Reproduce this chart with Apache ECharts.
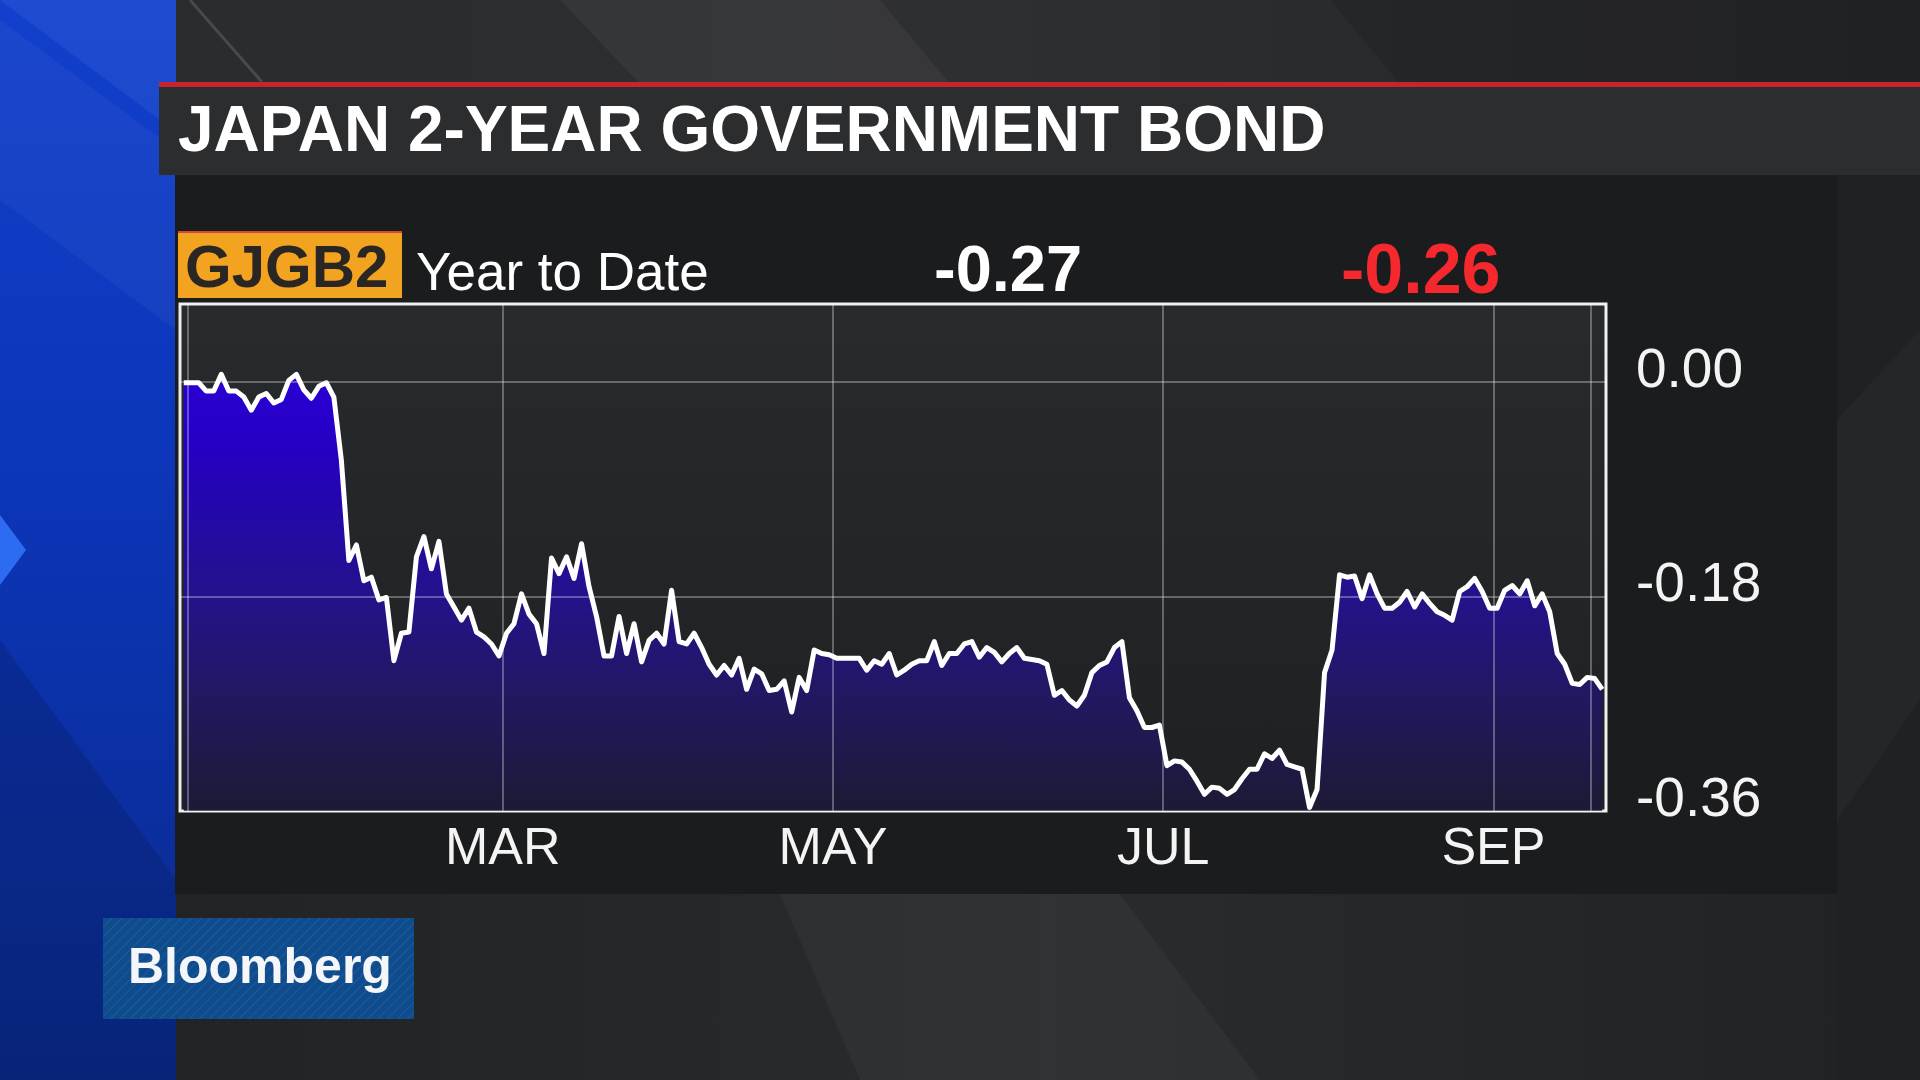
<!DOCTYPE html>
<html>
<head>
<meta charset="utf-8">
<script src="https://cdn.jsdelivr.net/npm/echarts@6/dist/echarts.min.js"></script>
<style>
html,body{margin:0;padding:0;background:#232426;overflow:hidden;}
#bg{position:absolute;left:0;top:0;}
#c{position:absolute;left:0;top:0;width:1920px;height:1080px;}
</style>
</head>
<body>
<svg id="bg" width="1920" height="1080" xmlns="http://www.w3.org/2000/svg">
  <defs>
    <linearGradient id="gBlue" x1="0" y1="0" x2="0" y2="1">
      <stop offset="0" stop-color="#1240cc"/>
      <stop offset="0.45" stop-color="#0c35b8"/>
      <stop offset="1" stop-color="#0a2a8c"/>
    </linearGradient>
    <linearGradient id="gTop" x1="0" y1="0" x2="1" y2="0">
      <stop offset="0" stop-color="#2a2b2d"/>
      <stop offset="0.5" stop-color="#2e2f31"/>
      <stop offset="1" stop-color="#242527"/>
    </linearGradient>
    <linearGradient id="gBottom" x1="0" y1="0" x2="1" y2="0">
      <stop offset="0" stop-color="#222325"/>
      <stop offset="0.5" stop-color="#2a2b2d"/>
      <stop offset="1" stop-color="#212224"/>
    </linearGradient>
    <pattern id="stripes" width="7" height="7" patternUnits="userSpaceOnUse" patternTransform="rotate(45)">
      <rect width="7" height="7" fill="#0f4c8e"/>
      <line x1="0" y1="0" x2="0" y2="7" stroke="rgba(255,255,255,0.07)" stroke-width="2"/>
    </pattern>
  </defs>
  <rect x="0" y="0" width="1920" height="1080" fill="#232426"/>
  <rect x="0" y="0" width="1920" height="84" fill="url(#gTop)"/>
  <polygon points="560,0 880,0 950,84 640,84" fill="rgba(255,255,255,0.045)"/>
  <polygon points="1330,0 1920,0 1920,84 1400,84" fill="rgba(0,0,0,0.10)"/>
  <line x1="190" y1="0" x2="262" y2="82" stroke="rgba(255,255,255,0.14)" stroke-width="3"/>
  <rect x="175" y="894" width="1745" height="186" fill="url(#gBottom)"/>
  <polygon points="780,894 1120,894 1260,1080 860,1080" fill="rgba(255,255,255,0.035)"/>
  <polygon points="1837,175 1920,175 1920,1080 1837,1080" fill="#202123"/>
  <polygon points="1837,420 1920,330 1920,700 1837,820" fill="rgba(255,255,255,0.025)"/>
  <rect x="0" y="0" width="176" height="1080" fill="url(#gBlue)"/>
  <polygon points="0,0 176,0 176,132" fill="rgba(140,180,255,0.10)"/>
  <polygon points="0,20 176,150 176,330 0,200" fill="rgba(255,255,255,0.04)"/>
  <polygon points="0,515 26,550 0,585" fill="#2d6cf2"/>
  <polygon points="0,640 176,880 176,1080 0,1080" fill="rgba(0,0,0,0.13)"/>
  <rect x="159" y="82" width="1761" height="5" fill="#c7242d"/>
  <rect x="159" y="87" width="1761" height="88" fill="#2c2d2f"/>
  <rect x="175" y="175" width="1662" height="719" fill="#1b1c1e"/>
  <rect x="178" y="231" width="224" height="67" fill="#f2a31f"/>
  <rect x="178" y="231" width="224" height="2" fill="#d8463a"/>
  <rect x="103" y="918" width="311" height="101" fill="url(#stripes)"/>
</svg>
<div id="c"></div>
<script>
// ---- data ----
function weekdays(start, end) {
  const out = [];
  const d = new Date(start + 'T00:00:00Z');
  const e = new Date(end + 'T00:00:00Z');
  while (d <= e) {
    const w = d.getUTCDay();
    if (w !== 0 && w !== 6) out.push(d.toISOString().slice(0, 10));
    d.setUTCDate(d.getUTCDate() + 1);
  }
  return out;
}
// one category per weekday, 2015-12-31 .. 2016-09-21
const categories = weekdays('2015-12-31', '2016-09-21');

// Japan 2-year government bond yield (%)
const yields = [
  -0.001, -0.001, -0.001, -0.008, -0.008, 0.006, -0.008, -0.008, -0.013, -0.024,
  -0.013, -0.010, -0.018, -0.015, 0.001, 0.006, -0.007, -0.014, -0.004, -0.001,
  -0.013, -0.066, -0.150, -0.137, -0.167, -0.164, -0.183, -0.181, -0.234, -0.211,
  -0.210, -0.147, -0.130, -0.157, -0.134, -0.178, -0.189, -0.200, -0.190, -0.210,
  -0.214, -0.220, -0.230, -0.211, -0.203, -0.178, -0.195, -0.203, -0.228, -0.148,
  -0.161, -0.147, -0.165, -0.136, -0.172, -0.197, -0.230, -0.230, -0.197, -0.228,
  -0.203, -0.235, -0.217, -0.211, -0.220, -0.175, -0.218, -0.220, -0.211, -0.223,
  -0.237, -0.246, -0.238, -0.246, -0.232, -0.258, -0.241, -0.245, -0.259, -0.258,
  -0.251, -0.277, -0.248, -0.259, -0.225, -0.228, -0.229, -0.232, -0.232, -0.232,
  -0.232, -0.242, -0.234, -0.237, -0.228, -0.246, -0.242, -0.237, -0.234, -0.234,
  -0.218, -0.238, -0.228, -0.228, -0.220, -0.218, -0.231, -0.223, -0.227, -0.235,
  -0.228, -0.223, -0.232, -0.233, -0.234, -0.237, -0.263, -0.259, -0.267, -0.272,
  -0.263, -0.244, -0.238, -0.235, -0.223, -0.218, -0.265, -0.276, -0.290, -0.290,
  -0.288, -0.322, -0.318, -0.319, -0.325, -0.335, -0.346, -0.340, -0.341, -0.346,
  -0.342, -0.333, -0.325, -0.325, -0.312, -0.316, -0.309, -0.321, -0.323, -0.325,
  -0.357, -0.342, -0.244, -0.225, -0.162, -0.164, -0.163, -0.182, -0.162, -0.178,
  -0.190, -0.190, -0.185, -0.176, -0.189, -0.178, -0.186, -0.193, -0.196, -0.200,
  -0.176, -0.172, -0.165, -0.176, -0.190, -0.190, -0.175, -0.171, -0.178, -0.167,
  -0.188, -0.178, -0.193, -0.228, -0.237, -0.253, -0.254, -0.248, -0.249, -0.258
];

// vertical grid lines (start of each marked period) and month tick labels
const gridDates = ['2016-01-01', '2016-03-01', '2016-05-02', '2016-07-01', '2016-09-01', '2016-09-20'];
const monthLabels = { '2016-03-01': 'MAR', '2016-05-02': 'MAY', '2016-07-01': 'JUL', '2016-09-01': 'SEP' };
const yTickLabels = [-0.36, -0.18, 0.00];

// header texts
const titleText = 'JAPAN 2-YEAR GOVERNMENT BOND';
const tickerText = 'GJGB2';
const periodText = 'Year to Date';
const headValues = ['-0.27', '-0.26'];
const brandText = 'Bloomberg';

// ---- chart ----
const FONT = '"Liberation Sans", Arial, Helvetica, sans-serif';
const chart = echarts.init(document.getElementById('c'), null, { renderer: 'svg', width: 1920, height: 1080 });

const gridLineStyle = { color: 'rgba(255,255,255,0.30)', width: 2 };

chart.setOption({
  backgroundColor: 'transparent',
  animation: false,
  grid: {
    left: 180, top: 304, width: 1426, height: 507,
    show: true,
    containLabel: false,
    outerBoundsMode: 'none',
    backgroundColor: new echarts.graphic.LinearGradient(0, 0, 0, 1, [
      { offset: 0, color: '#282b2d' },
      { offset: 1, color: '#1e2022' }
    ]),
    borderColor: '#ececec',
    borderWidth: 3
  },
  xAxis: {
    type: 'category',
    data: categories,
    boundaryGap: true,
    z: 5,
    axisLine: { show: false },
    axisTick: { show: false },
    splitLine: {
      show: true,
      interval: function (index, value) { return gridDates.indexOf(value) >= 0; },
      lineStyle: gridLineStyle
    },
    axisLabel: {
      interval: function (index, value) { return monthLabels[value] !== undefined; },
      formatter: function (value) { return monthLabels[value] || ''; },
      color: '#f4f4f4',
      fontFamily: FONT,
      fontSize: 52,
      verticalAlign: 'middle',
      margin: 35,
      padding: [0, 7.5, 0, 0]
    }
  },
  yAxis: {
    type: 'value',
    position: 'right',
    min: -0.36,
    max: 0.065,
    interval: 0.18,
    z: 5,
    axisLine: { show: false },
    axisTick: { show: false },
    splitLine: { show: true, lineStyle: gridLineStyle },
    axisLabel: {
      showMaxLabel: false,
      showMinLabel: true,
      formatter: function (v) {
        return yTickLabels.some(function (t) { return Math.abs(t - v) < 1e-6; }) ? v.toFixed(2) : '';
      },
      color: '#f4f4f4',
      fontFamily: FONT,
      fontSize: 55,
      margin: 30,
      verticalAlign: 'bottom',
      lineHeight: 28
    }
  },
  series: [{
    type: 'line',
    data: yields,
    symbol: 'none',
    z: 2,
    lineStyle: { color: '#ffffff', width: 5, join: 'round' },
    areaStyle: {
      origin: 'start',
      opacity: 1,
      color: new echarts.graphic.LinearGradient(0, 0, 0, 1, [
        { offset: 0, color: '#2a00d4' },
        { offset: 0.17, color: '#2600c2' },
        { offset: 0.29, color: '#2407ae' },
        { offset: 0.51, color: '#23128a' },
        { offset: 0.73, color: '#211862' },
        { offset: 1, color: '#1c1a34' }
      ])
    }
  }],
  graphic: [
    { type: 'text', x: 178, y: 129, z: 100, silent: true,
      style: { text: titleText, fill: '#ffffff', font: 'bold 64px ' + FONT, align: 'left', verticalAlign: 'middle' } },
    { type: 'text', x: 185, y: 266, z: 100, silent: true,
      style: { text: tickerText, fill: '#2a2624', font: 'bold 60px ' + FONT, align: 'left', verticalAlign: 'middle' } },
    { type: 'text', x: 416, y: 271, z: 100, silent: true,
      style: { text: periodText, fill: '#ffffff', font: '53px ' + FONT, align: 'left', verticalAlign: 'middle' } },
    { type: 'text', x: 934, y: 268, z: 100, silent: true,
      style: { text: headValues[0], fill: '#ffffff', font: 'bold 65px ' + FONT, align: 'left', verticalAlign: 'middle' } },
    { type: 'text', x: 1341, y: 269, z: 100, silent: true,
      style: { text: headValues[1], fill: '#f5282e', font: 'bold 70px ' + FONT, align: 'left', verticalAlign: 'middle' } },
    { type: 'text', x: 128, y: 966, z: 100, silent: true,
      style: { text: brandText, fill: '#f4f6f8', font: 'bold 50px ' + FONT, align: 'left', verticalAlign: 'middle' } }
  ]
});
</script>
</body>
</html>
